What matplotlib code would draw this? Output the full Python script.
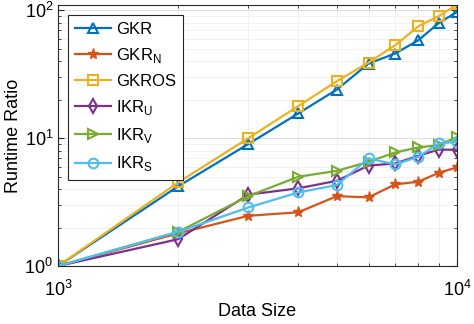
import matplotlib
matplotlib.use('Agg')
import matplotlib.pyplot as plt
from matplotlib.ticker import LogLocator, NullFormatter

plt.rcParams['font.family'] = ['Liberation Sans', 'DejaVu Sans']
plt.rcParams['mathtext.fontset'] = 'custom'
plt.rcParams['mathtext.rm'] = 'Liberation Sans'

# data
sizes = [1000, 2000, 3000, 4000, 5000, 6000, 7000, 8000, 9000, 10000]
gkr = [1.0, 4.2, 9.0, 15.6, 24.0, 38.3, 45.9, 58.3, 79.5, 97.0]
gkr_n = [1.0, 1.8, 2.47, 2.63, 3.52, 3.44, 4.35, 4.56, 5.36, 5.9]
gkros = [1.0, 4.5, 10.0, 17.8, 27.9, 39.0, 53.3, 75.0, 90.0, 111.0]
ikr_u = [1.0, 1.62, 3.62, 4.05, 4.64, 6.1, 6.34, 7.28, 8.15, 8.1]
ikr_v = [1.0, 1.85, 3.52, 4.99, 5.55, 6.53, 7.73, 8.46, 8.82, 10.2]
ikr_s = [1.0, 1.85, 2.87, 3.76, 4.30, 6.94, 6.23, 7.14, 9.09, 9.36]

names = ['GKR', r'GKR$_\mathregular{N}$', 'GKROS', r'IKR$_\mathregular{U}$',
         r'IKR$_\mathregular{V}$', r'IKR$_\mathregular{S}$']
series = [gkr, gkr_n, gkros, ikr_u, ikr_v, ikr_s]
colors = ['#0072BD', '#D95319', '#EDB120', '#7E2F8E', '#77AC30', '#4DBEEE']
markers = ['^', '*', 's', 'd', '>', 'o']

fig = plt.figure(figsize=(4.74, 3.24), dpi=100)
ax = fig.add_axes([0.1224, 0.179, 0.8418, 0.8056])

for ys, nm, c, m in zip(series, names, colors, markers):
    if m == '*':
        ax.plot(sizes, ys, color=c, marker=m, markersize=8, linewidth=1.6, label=nm)
    else:
        ax.plot(sizes, ys, color=c, marker=m, markersize=7, markerfacecolor='none',
                markeredgewidth=1.5, linewidth=1.6, label=nm)

ax.set_xscale('log')
ax.set_yscale('log')
ax.set_xlim(1000, 10000)
ax.set_ylim(1, 110)

ax.xaxis.set_minor_locator(LogLocator(base=10, subs=range(2, 10)))
ax.yaxis.set_minor_locator(LogLocator(base=10, subs=range(2, 10)))
ax.xaxis.set_minor_formatter(NullFormatter())
ax.yaxis.set_minor_formatter(NullFormatter())

ax.grid(True, which='major', color='#d9d9d9', linewidth=0.6)
ax.grid(True, which='minor', color='#ececec', linewidth=0.5)
ax.tick_params(which='both', direction='in', top=True, right=True, labelsize=13,
               color='#262626')
ax.tick_params(which='major', length=4)
ax.tick_params(which='minor', length=2)
ax.tick_params(axis='x', which='major', pad=10)
for s in ax.spines.values():
    s.set_color('#262626')
    s.set_linewidth(0.8)

ax.set_xlabel('Data Size', fontsize=13, labelpad=2)
ax.set_ylabel('Runtime Ratio', fontsize=13, labelpad=2)

leg = ax.legend(loc='upper left', fontsize=12, fancybox=False, edgecolor='#262626',
                framealpha=1, handlelength=2.2, labelspacing=0.55,
                borderaxespad=0.6, handletextpad=0.3)
leg.get_frame().set_linewidth(0.8)

fig.savefig('out.png', dpi=100)
